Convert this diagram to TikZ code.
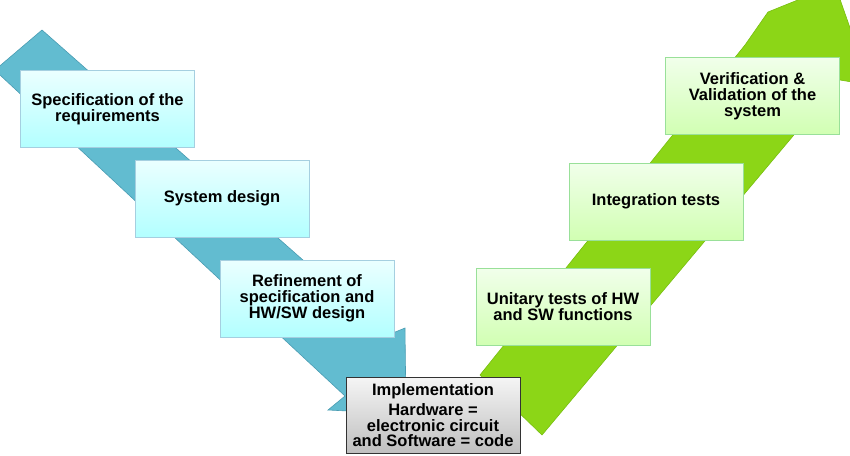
\documentclass[tikz,border=0pt]{standalone}
\usepackage{fontspec}
\setmainfont{Liberation Sans}
\definecolor{barrow}{HTML}{62BCD0}
\definecolor{barrowd}{HTML}{4A9CB2}
\definecolor{garrow}{HTML}{8CD617}
\definecolor{garrowd}{HTML}{78BE10}
\tikzset{
 box/.style={minimum width=174pt,minimum height=77pt,align=center,inner sep=1pt,
   font=\bfseries\fontsize{16.5}{16}\selectfont,draw=#1!70!black!40, line width=0.6pt},
 bbox/.style={box=cyan,top color=cyan!8,bottom color=cyan!30!white},
 gbox/.style={box=green,top color=green!70!yellow!8,bottom color=green!60!yellow!30!white},
 ibox/.style={box=black,draw=black!80,top color=black!4,bottom color=black!25,minimum height=76pt}
}
\begin{document}
\begin{tikzpicture}[x=1pt,y=-1pt]
\useasboundingbox (0,0) rectangle (850,455);
\clip (0,0) rectangle (850,455);
% blue arrow
\fill[barrow,draw=barrowd,line width=0.6pt] (42,30) -- (388,335) -- (405,328) -- (406,414) -- (328,410) -- (345,396) -- (0,75) -- (-5,70) -- cycle;
% green arrow
\fill[garrow,draw=garrowd,line width=0.6pt] (542,435) -- (480,375) -- (745,45) -- (768,12) -- (835,-15) -- (870,85) -- (840,80) -- cycle;
\node[bbox] (s1) at (107.5,109) {Specification of the\\requirements};
\node[bbox] (s2) at (222,198.5) {System design};
\node[bbox] (s3) at (307,298.5) {Refinement of\\specification and\\HW/SW design};
\node[ibox,anchor=north,inner sep=0pt,font=\bfseries\fontsize{16.5}{15.5}\selectfont] (s4) at (433,377) {Implementation\\[5pt]Hardware =\\electronic circuit\\and Software = code};
\node[gbox] (s5) at (563,307) {Unitary tests of HW\\and SW functions};
\node[gbox] (s6) at (656,201.5) {Integration tests};
\node[gbox] (s7) at (752.5,96) {Verification \&\\Validation of the\\system};
\end{tikzpicture}
\end{document}
